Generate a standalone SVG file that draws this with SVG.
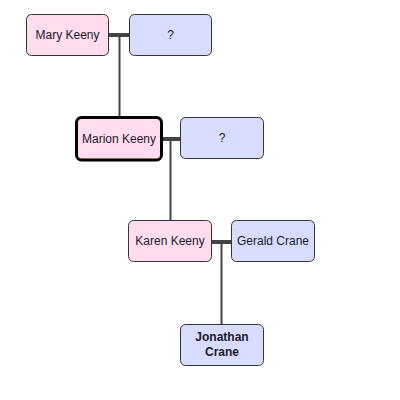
<svg xmlns="http://www.w3.org/2000/svg" width="400" height="400" viewBox="0 0 400 400">
<style>
.f{fill:#ffdcee;stroke:#333;stroke-width:1}
.m{fill:#d8ddff;stroke:#333;stroke-width:1}
.sel{stroke-width:3;stroke:#000}
text{font-family:"Liberation Sans",Arial,sans-serif;font-size:12px;fill:#1a1a2a;text-anchor:middle}
.b{font-weight:bold}
.mar{stroke:#444;stroke-width:4;fill:none}
.des{stroke:#444;stroke-width:2;fill:none}
</style>
<rect width="400" height="400" fill="#fff"/>
<g id="connectors">
<line class="mar" x1="109" y1="35" x2="129" y2="35"/>
<line class="des" x1="119.5" y1="35" x2="119.5" y2="117"/>
<line class="mar" x1="162" y1="139" x2="180" y2="139"/>
<line class="des" x1="170.5" y1="139" x2="170.5" y2="221"/>
<line class="mar" x1="212" y1="242" x2="232" y2="242"/>
<line class="des" x1="221.5" y1="242" x2="221.5" y2="324"/>
</g>
<g id="mary">
<rect class="f" x="26.5" y="14.5" width="82" height="41" rx="5"/>
<text x="67.5" y="39">Mary Keeny</text>
</g>
<g id="unknown1">
<rect class="m" x="129.5" y="14.5" width="82" height="41" rx="5"/>
<text x="170.5" y="39">?</text>
</g>
<g id="marion">
<rect class="f sel" x="76.5" y="117.5" width="85" height="42.5" rx="5"/>
<text x="119" y="143">Marion Keeny</text>
</g>
<g id="unknown2">
<rect class="m" x="180.5" y="117.5" width="83" height="41" rx="5"/>
<text x="222" y="142">?</text>
</g>
<g id="karen">
<rect class="f" x="128.5" y="220.5" width="83" height="41" rx="5"/>
<text x="170" y="245">Karen Keeny</text>
</g>
<g id="gerald">
<rect class="m" x="231.5" y="220.5" width="83" height="41" rx="5"/>
<text x="273" y="245">Gerald Crane</text>
</g>
<g id="jonathan">
<rect class="m" x="180.5" y="324.5" width="83" height="41" rx="5"/>
<text class="b" x="222" y="341">Jonathan</text>
<text class="b" x="222" y="356">Crane</text>
</g>
</svg>
